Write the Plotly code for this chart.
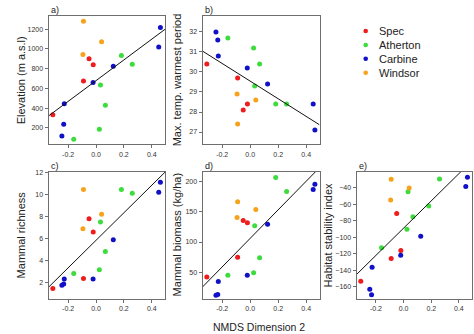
import plotly.graph_objects as go
import numpy as np

W, H = 474, 334

# ---- data -------------------------------------------------------------
groups = ["Spec", "Atherton", "Carbine", "Windsor"]
group_colors = ["#ee1c1c", "#3ddc3d", "#1010c8", "#f7a21b"]

site_group = ["Spec"] * 4 + ["Atherton"] * 6 + ["Carbine"] * 7 + ["Windsor"] * 3
nmds2 = [-0.31, -0.09, -0.05, -0.02,
         -0.16, 0.024, 0.032, 0.067, 0.182, 0.26,
         -0.245, -0.232, -0.228, -0.021, 0.124, 0.45, 0.462,
         -0.09, -0.094, 0.04]
elevation = [334, 675, 900, 840,
             86, 187, 634, 429, 934, 846,
             119, 237, 445, 661, 826, 1021, 1217,
             1280, 944, 1072]
max_temp = [30.4, 29.7, 28.1, 28.4,
            31.7, 31.2, 29.3, 30.4, 28.4, 28.4,
            32.0, 31.6, 30.8, 30.2, 29.4, 28.4, 27.1,
            27.4, 28.9, 28.6]
richness = [1.5, 2.4, 7.8, 6.6,
            2.85, 3.2, 7.5, 4.85, 10.45, 10.1,
            1.8, 1.9, 2.35, 2.35, 5.9, 10.2, 11.1,
            10.45, 6.9, 8.2]
biomass = [42.3, 74.7, 135.6, 131.8,
           45, 49, 127, 74, 207, 183.5,
           12, 13, 34.6, 45, 129.6, 186.8, 195.7,
           166.5, 140.6, 154]
stability = [-153.2, -125.5, -71, -115.8,
             -112.6, -90.2, -44.8, -75, -62, -29.2,
             -162.8, -169.6, -136, -121.5, -98.6, -38.4, -27.1,
             -29.6, -54.8, -40]

y_titles = ["Elevation (m a.s.l)", "Max. temp. warmest period", "Mammal richness",
            "Mammal biomass (kg/ha)", "Habitat stability index"]
panel_labels = ["a)", "b)", "c)", "d)", "e)"]
x_title = "NMDS Dimension 2"
x_ticks = [-0.2, 0.0, 0.2, 0.4]
y_ticks = [[200, 400, 600, 800, 1000, 1200], [27, 28, 29, 30, 31, 32],
           [2, 4, 6, 8, 10, 12], [50, 100, 150, 200],
           [-160, -140, -120, -100, -80, -60, -40]]

# ---- layout geometry (pixels) ----------------------------------------
x_range = [-0.341, 0.495]
y_ranges = [[35, 1330], [26.39, 32.78], [0.57, 12.03], [6, 216], [-174.4, -20.7]]
boxes = [  # left, right, top, bottom (px)
    (48.5, 165, 13.5, 142.5),
    (202.5, 319.5, 13.5, 142.5),
    (48.5, 165, 170.5, 298.5),
    (202.5, 319.5, 170.5, 298.5),
    (356.5, 472, 170.5, 298.5),
]
title_x = [21, 177, 21, 177, 328]

FONT = "Liberation Sans, Arial, sans-serif"
FRAME = "#6e6e6e"

fig = go.Figure()
ys = [elevation, max_temp, richness, biomass, stability]
layout = {}
annotations = []

for i, (yv, box) in enumerate(zip(ys, boxes)):
    n = "" if i == 0 else str(i + 1)
    xa, ya = "x" + n, "y" + n
    l, r, t, b = box
    layout["xaxis" + n] = dict(
        domain=[l / W, r / W], anchor=ya, range=x_range,
        tickvals=x_ticks, ticktext=["%.1f" % v for v in x_ticks],
        showline=True, mirror=True, linecolor=FRAME, linewidth=1,
        ticks="outside", ticklen=3, tickcolor=FRAME, tickwidth=1,
        showgrid=False, zeroline=False,
        tickfont=dict(family=FONT, size=7, color="#333"),
    )
    layout["yaxis" + n] = dict(
        domain=[1 - b / H, 1 - t / H], anchor=xa, range=y_ranges[i],
        tickvals=y_ticks[i],
        showline=True, mirror=True, linecolor=FRAME, linewidth=1,
        ticks="outside", ticklen=3, tickcolor=FRAME, tickwidth=1,
        showgrid=False, zeroline=False,
        tickfont=dict(family=FONT, size=7, color="#333"),
    )
    for g, c in zip(groups, group_colors):
        idx = [k for k, sg in enumerate(site_group) if sg == g]
        fig.add_trace(go.Scatter(
            x=[nmds2[k] for k in idx], y=[yv[k] for k in idx],
            mode="markers", marker=dict(color=c, size=5, line=dict(width=0)),
            xaxis=xa, yaxis=ya, showlegend=False, name=g))
    slope, icpt = np.polyfit(nmds2, yv, 1)
    lx = np.array(x_range)
    fig.add_trace(go.Scatter(x=lx, y=icpt + slope * lx, mode="lines",
                             line=dict(color="#111", width=1),
                             xaxis=xa, yaxis=ya, showlegend=False))
    annotations.append(dict(text=y_titles[i], textangle=-90, x=title_x[i] / W,
                            y=1 - (t + b) / 2 / H, xref="paper", yref="paper",
                            xanchor="center", yanchor="middle", showarrow=False,
                            font=dict(family=FONT, size=11, color="#222")))
    annotations.append(dict(text=panel_labels[i], x=l / W, y=1 - (t - 6.5) / H,
                            xref="paper", yref="paper", xanchor="left",
                            yanchor="middle", showarrow=False,
                            font=dict(family=FONT, size=9, color="#222")))

annotations.append(dict(text=x_title, x=259 / W, y=1 - 327 / H, xref="paper",
                        yref="paper", xanchor="center", yanchor="middle",
                        showarrow=False, font=dict(family=FONT, size=10.5, color="#222")))

# legend (drawn manually)
shapes = []
for j, (g, c) in enumerate(zip(groups, group_colors)):
    yc = 28.3 + j * 14
    shapes.append(dict(type="circle", xref="paper", yref="paper",
                       x0=(365.7 - 2.3) / W, x1=(365.7 + 2.3) / W,
                       y0=1 - (yc + 2.3) / H, y1=1 - (yc - 2.3) / H,
                       fillcolor=c, line=dict(width=0)))
    annotations.append(dict(text=g, x=376.5 / W, y=1 - yc / H, xref="paper",
                            yref="paper", xanchor="left", yanchor="middle",
                            showarrow=False, font=dict(family=FONT, size=11, color="#222")))

fig.update_layout(width=W, height=H, margin=dict(l=0, r=0, t=0, b=0),
                  paper_bgcolor="white", plot_bgcolor="white",
                  showlegend=False, annotations=annotations, shapes=shapes,
                  **layout)
fig.write_html("out.html")
